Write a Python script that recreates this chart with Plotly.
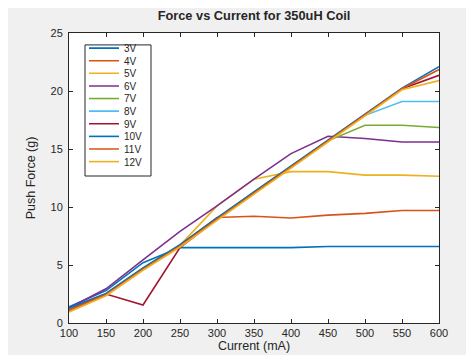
import plotly.graph_objects as go

current_ma = [100, 150, 200, 250, 300, 350, 400, 450, 500, 550, 600]

series_names = ["3V", "4V", "5V", "6V", "7V", "8V", "9V", "10V", "11V", "12V"]

force_3v = [1.4, 2.8, 5.2, 6.5, 6.5, 6.5, 6.5, 6.6, 6.6, 6.6, 6.6]
force_4v = [1.2, 2.5, 4.7, 6.7, 9.1, 9.2, 9.05, 9.3, 9.45, 9.7, 9.7]
force_5v = [1.0, 2.4, 4.6, 6.7, 10.1, 12.4, 13.05, 13.05, 12.75, 12.75, 12.65]
force_6v = [1.3, 2.95, 5.45, 7.9, 10.1, 12.4, 14.6, 16.1, 15.9, 15.6, 15.6]
force_7v = [1.2, 2.5, 4.7, 6.7, 9.0, 11.3, 13.5, 15.7, 17.05, 17.05, 16.85]
force_8v = [1.15, 2.45, 4.65, 6.65, 8.95, 11.25, 13.45, 15.65, 17.9, 19.1, 19.1]
force_9v = [1.1, 2.5, 1.55, 6.5, 8.95, 11.2, 13.45, 15.7, 17.95, 20.2, 21.35]
force_10v = [1.3, 2.55, 4.75, 6.75, 9.05, 11.3, 13.55, 15.8, 18.0, 20.25, 22.1]
force_11v = [1.1, 2.45, 4.65, 6.65, 8.95, 11.2, 13.45, 15.7, 17.95, 20.2, 21.85]
force_12v = [0.95, 2.35, 4.55, 6.55, 8.85, 11.1, 13.35, 15.6, 17.85, 20.1, 20.9]

all_series = [force_3v, force_4v, force_5v, force_6v, force_7v,
              force_8v, force_9v, force_10v, force_11v, force_12v]

colors = ["#0072BD", "#D95319", "#EDB120", "#7E2F8E", "#77AC30",
          "#4DBEEE", "#A2142F", "#0072BD", "#D95319", "#EDB120"]

x_ticks = [100, 150, 200, 250, 300, 350, 400, 450, 500, 550, 600]
y_ticks = [0, 5, 10, 15, 20, 25]

W, H = 474, 355
ML, MR, MT, MB = 61, 43, 25, 38
PW, PH = W - ML - MR, H - MT - MB

def px_to_paper_x(px):
    return (px - ML) / PW

def py_to_paper_y(py):
    return (H - MB - py) / PH

txt = "#262626"
fig = go.Figure()

layout_legends = {}
for i, (name, vals, col) in enumerate(zip(series_names, all_series, colors)):
    key = "legend" if i == 0 else f"legend{i+1}"
    fig.add_trace(go.Scatter(
        x=current_ma, y=vals, mode="lines", name=name,
        line=dict(color=col, width=1.6),
        legend=key,
    ))
    layout_legends[key] = dict(
        x=px_to_paper_x(76), y=py_to_paper_y(40.2 + 12.7 * i),
        xanchor="left", yanchor="middle",
        bgcolor="rgba(0,0,0,0)", borderwidth=0,
        font=dict(family="Liberation Sans, Arial, sans-serif", size=10, color=txt),
        itemwidth=30, tracegroupgap=0,
    )

fig.update_layout(**layout_legends)

fig.add_shape(
    type="rect", xref="paper", yref="paper",
    x0=px_to_paper_x(77), x1=px_to_paper_x(143),
    y0=py_to_paper_y(169), y1=py_to_paper_y(37),
    line=dict(color=txt, width=1), fillcolor="white", layer="below",
)

fig.update_layout(
    width=W, height=H,
    margin=dict(l=ML, r=MR, t=MT, b=MB, pad=0),
    paper_bgcolor="#F0F0F0",
    plot_bgcolor="white",
    font=dict(family="Liberation Sans, Arial, sans-serif", size=11, color=txt),
    title=dict(text="<b>Force vs Current for 350uH Coil</b>",
               x=246 / W, xanchor="center",
               y=1 - 8 / H, yanchor="middle",
               font=dict(size=12.8, color=txt)),
    showlegend=True,
)

fig.update_xaxes(
    range=[100, 600], tickvals=x_ticks, ticktext=[str(v) for v in x_ticks],
    showline=True, mirror="ticks", linecolor=txt, linewidth=1,
    ticks="inside", ticklen=4, tickcolor=txt, showgrid=False, zeroline=False,
    title=dict(text="Current (mA)", font=dict(size=12.5, color=txt), standoff=3),
    tickfont=dict(size=11, color=txt),
)
fig.update_yaxes(
    range=[0, 25], tickvals=y_ticks, ticktext=[str(v) for v in y_ticks],
    showline=True, mirror="ticks", linecolor=txt, linewidth=1,
    ticks="inside", ticklen=4, tickcolor=txt, showgrid=False, zeroline=False,
    ticklabelstandoff=3,
    title=dict(text="Push Force (g)", font=dict(size=12.5, color=txt), standoff=12),
    tickfont=dict(size=11, color=txt),
)

fig.write_html("out.html")
